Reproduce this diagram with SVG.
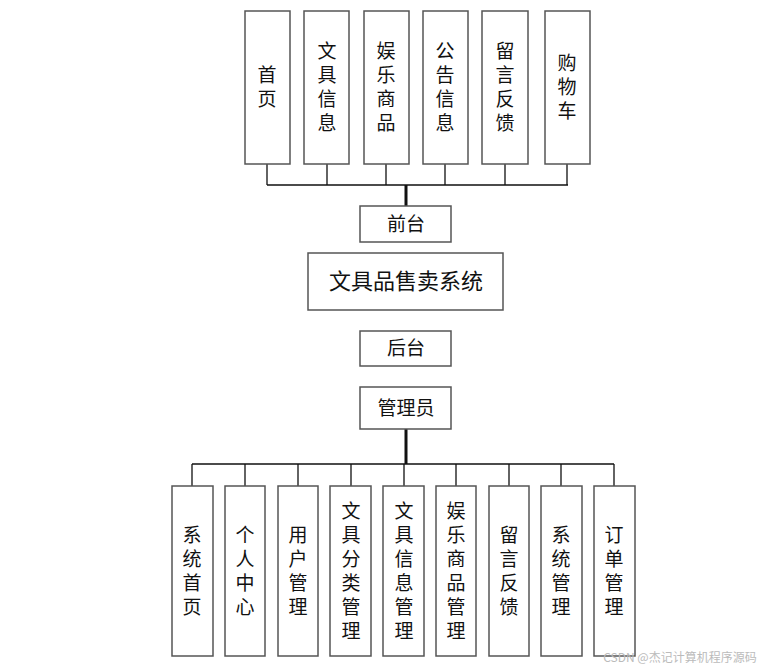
<svg xmlns="http://www.w3.org/2000/svg" width="782" height="670" viewBox="0 0 782 670">
<style>
rect{fill:#fff;stroke:#555;stroke-width:1.5}
text{font-family:"Noto Sans CJK SC","Liberation Serif",serif;font-size:19px;fill:#111;text-anchor:middle}
.big{font-size:22px}
#conn path{stroke:#111;fill:none;stroke-width:1.3}
</style>
<rect x="0" y="0" width="782" height="670" style="stroke:none"/>
<g id="conn">
<path d="M267 164V185M327 164V185M386 164V185M445 164V185M505 164V185M567 164V185M267 185H568"/>
<path d="M406 185V206" style="stroke-width:3"/>
<path d="M406 429V464" style="stroke-width:3"/>
<path d="M192 464H614M192 464V486M245 464V486M298 464V486M351 464V486M404 464V486M456 464V486M509 464V486M561 464V486M614 464V486"/>
</g>
<g id="t1"><rect x="245" y="11" width="45" height="153"/><text x="267" y="82">首</text><text x="267" y="106">页</text></g>
<g id="t2"><rect x="304" y="11" width="45" height="153"/><text x="327" y="58">文</text><text x="327" y="82">具</text><text x="327" y="106">信</text><text x="327" y="130">息</text></g>
<g id="t3"><rect x="364" y="11" width="45" height="153"/><text x="386" y="58">娱</text><text x="386" y="82">乐</text><text x="386" y="106">商</text><text x="386" y="130">品</text></g>
<g id="t4"><rect x="423" y="11" width="45" height="153"/><text x="445" y="58">公</text><text x="445" y="82">告</text><text x="445" y="106">信</text><text x="445" y="130">息</text></g>
<g id="t5"><rect x="482" y="11" width="46" height="153"/><text x="505" y="58">留</text><text x="505" y="82">言</text><text x="505" y="106">反</text><text x="505" y="130">馈</text></g>
<g id="t6"><rect x="545" y="11" width="45" height="153"/><text x="567" y="70">购</text><text x="567" y="94">物</text><text x="567" y="118">车</text></g>
<g id="front"><rect x="360" y="206" width="91" height="36"/><text x="406" y="231">前台</text></g>
<g id="main"><rect x="308" y="253" width="195" height="57"/><text class="big" x="406" y="289">文具品售卖系统</text></g>
<g id="back"><rect x="360" y="331" width="91" height="35"/><text x="406" y="355">后台</text></g>
<g id="admin"><rect x="360" y="387" width="91" height="42"/><text x="406" y="415">管理员</text></g>
<g id="b1"><rect x="172" y="486" width="41" height="170"/><text x="192" y="542">系</text><text x="192" y="566">统</text><text x="192" y="590">首</text><text x="192" y="614">页</text></g>
<g id="b2"><rect x="225" y="486" width="40" height="170"/><text x="245" y="542">个</text><text x="245" y="566">人</text><text x="245" y="590">中</text><text x="245" y="614">心</text></g>
<g id="b3"><rect x="278" y="486" width="40" height="170"/><text x="298" y="542">用</text><text x="298" y="566">户</text><text x="298" y="590">管</text><text x="298" y="614">理</text></g>
<g id="b4"><rect x="330" y="486" width="41" height="170"/><text x="351" y="518">文</text><text x="351" y="542">具</text><text x="351" y="566">分</text><text x="351" y="590">类</text><text x="351" y="614">管</text><text x="351" y="638">理</text></g>
<g id="b5"><rect x="383" y="486" width="41" height="170"/><text x="404" y="518">文</text><text x="404" y="542">具</text><text x="404" y="566">信</text><text x="404" y="590">息</text><text x="404" y="614">管</text><text x="404" y="638">理</text></g>
<g id="b6"><rect x="436" y="486" width="40" height="170"/><text x="456" y="518">娱</text><text x="456" y="542">乐</text><text x="456" y="566">商</text><text x="456" y="590">品</text><text x="456" y="614">管</text><text x="456" y="638">理</text></g>
<g id="b7"><rect x="489" y="486" width="40" height="170"/><text x="509" y="542">留</text><text x="509" y="566">言</text><text x="509" y="590">反</text><text x="509" y="614">馈</text></g>
<g id="b8"><rect x="541" y="486" width="41" height="170"/><text x="561" y="542">系</text><text x="561" y="566">统</text><text x="561" y="590">管</text><text x="561" y="614">理</text></g>
<g id="b9"><rect x="594" y="486" width="41" height="170"/><text x="614" y="542">订</text><text x="614" y="566">单</text><text x="614" y="590">管</text><text x="614" y="614">理</text></g>
<text x="680" y="662" style="font-family:'Noto Sans CJK SC',sans-serif;font-size:12px;fill:#bbb">CSDN @杰记计算机程序源码</text>
</svg>
